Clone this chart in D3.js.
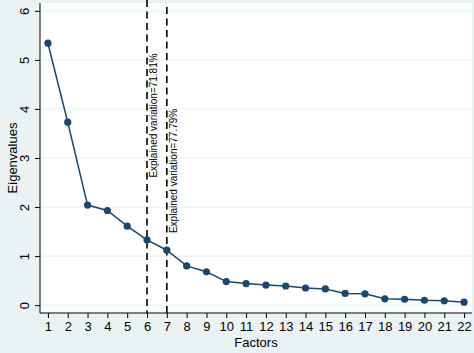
<!DOCTYPE html>
<html>
<head>
<meta charset="utf-8">
<script src="https://cdn.jsdelivr.net/npm/d3@7"></script>
<style>
  body { margin: 0; background: #eaf2f3; }
  text { font-family: "Liberation Sans", Arial, sans-serif; fill: #000; }
</style>
</head>
<body>
<div id="chart"></div>
<script>
'use strict';

// scree plot data
const factors = d3.range(1, 23);
const eigenvalues = [5.34, 3.73, 2.04, 1.93, 1.61, 1.33, 1.12, 0.80, 0.68, 0.48, 0.44,
  0.41, 0.39, 0.35, 0.33, 0.24, 0.23, 0.13, 0.12, 0.10, 0.09, 0.06];
const yTicks = [0, 1, 2, 3, 4, 5, 6];
const cutoffs = [
  { factor: 6, label: 'Explained variation=71.81%', at: 2.6, top: -3 },
  { factor: 7, label: 'Explained variation=77.79%', at: 1.47, top: 4 },
];

const width = 474;
const height = 353;
const margin = { top: 3, right: 2, bottom: 40, left: 40 };
const navy = '#1a476f';

const svg = d3.select('#chart')
  .append('svg')
    .attr('width', width)
    .attr('height', height);

svg.append('rect')
  .attr('width', width)
  .attr('height', height)
  .attr('fill', '#eaf2f3');

const plotW = width - margin.left - margin.right;
const plotH = height - margin.top - margin.bottom;

const g = svg.append('g')
  .attr('transform', `translate(${margin.left},${margin.top})`);

g.append('rect')
  .attr('width', plotW)
  .attr('height', plotH)
  .attr('fill', '#fff');

const x = d3.scaleLinear().domain([0.6, 22.4]).range([0, plotW]);
const y = d3.scaleLinear().domain([-0.16, 6.16]).range([plotH, 0]);

// gridlines
g.selectAll('.grid')
  .data(yTicks)
  .enter()
  .append('line')
    .attr('x1', 0)
    .attr('x2', plotW)
    .attr('y1', (d) => y(d))
    .attr('y2', (d) => y(d))
    .attr('stroke', '#eaf2f3')
    .attr('stroke-width', 1.2);

// axes
const xAxis = g.append('g')
  .attr('transform', `translate(0,${plotH})`)
  .call(d3.axisBottom(x).tickValues(factors).tickSize(5).tickPadding(4).tickFormat(d3.format('d')));

const yAxis = g.append('g')
  .call(d3.axisLeft(y).tickValues(yTicks).tickSize(5).tickPadding(4).tickFormat(d3.format('d')));

for (const ax of [xAxis, yAxis]) {
  ax.select('.domain').attr('stroke', '#000').attr('stroke-width', 1);
  ax.selectAll('.tick line').attr('stroke', '#000');
  ax.selectAll('.tick text').style('font-size', '13px').attr('fill', '#000');
}
xAxis.select('.domain').attr('d', `M0,0H${plotW}`);
yAxis.select('.domain').attr('d', `M0,0V${plotH}`);

yAxis.selectAll('.tick text')
  .attr('x', null)
  .attr('dy', null)
  .attr('text-anchor', 'middle')
  .attr('transform', 'translate(-11,0) rotate(-90)');

// axis titles
svg.append('text')
  .attr('x', margin.left + plotW / 2)
  .attr('y', height - 6)
  .attr('text-anchor', 'middle')
  .style('font-size', '13px')
  .text('Factors');

svg.append('text')
  .attr('transform', `translate(17,${margin.top + plotH / 2}) rotate(-90)`)
  .attr('text-anchor', 'middle')
  .style('font-size', '13px')
  .text('Eigenvalues');

// cutoff lines
g.selectAll('.cutoff')
  .data(cutoffs)
  .enter()
  .append('line')
    .attr('x1', (d) => x(d.factor))
    .attr('x2', (d) => x(d.factor))
    .attr('y1', (d) => d.top)
    .attr('y2', plotH)
    .attr('stroke', '#000')
    .attr('stroke-width', 1.6)
    .attr('stroke-dasharray', '7,4.5');

g.selectAll('.cutoff-label')
  .data(cutoffs)
  .enter()
  .append('text')
    .attr('transform', (d) => `translate(${x(d.factor) + 10},${y(d.at)}) rotate(-90)`)
    .style('font-size', '10px')
    .text((d) => d.label);

// scree line and markers
const line = d3.line()
  .x((d, i) => x(factors[i]))
  .y((d) => y(d));

g.append('path')
  .datum(eigenvalues)
  .attr('d', line)
  .attr('fill', 'none')
  .attr('stroke', navy)
  .attr('stroke-width', 1.5);

g.selectAll('circle')
  .data(eigenvalues)
  .enter()
  .append('circle')
    .attr('cx', (d, i) => x(factors[i]))
    .attr('cy', (d) => y(d))
    .attr('r', 3.6)
    .attr('fill', navy);
</script>
</body>
</html>
